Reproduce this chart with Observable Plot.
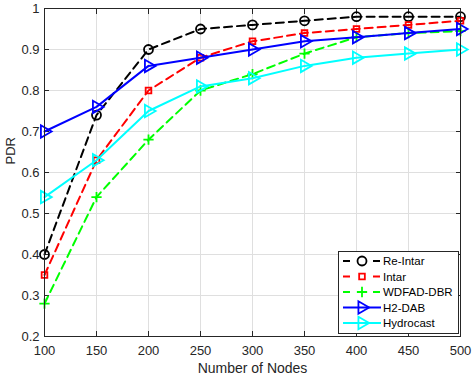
<!DOCTYPE html>
<html>
<head>
<meta charset="utf-8">
<script src="https://cdn.jsdelivr.net/npm/d3@7"></script>
<script src="https://cdn.jsdelivr.net/npm/@observablehq/plot@0.6"></script>
<style>
  html, body { margin: 0; padding: 0; background: #fff; }
  #wrap { position: relative; width: 474px; height: 379px; font-family: "Liberation Sans", Arial, sans-serif; }
  #legend { position: absolute; left: 338px; top: 251px; }
</style>
</head>
<body>
<div id="wrap"></div>
<script>
const nodes = [100, 150, 200, 250, 300, 350, 400, 450, 500];
const reIntar   = [0.40, 0.74, 0.90, 0.95, 0.96, 0.97, 0.98, 0.98, 0.98];
const intar     = [0.35, 0.63, 0.80, 0.88, 0.92, 0.94, 0.95, 0.96, 0.97];
const wdfadDbr  = [0.28, 0.54, 0.68, 0.80, 0.84, 0.89, 0.93, 0.94, 0.945];
const h2Dab     = [0.70, 0.76, 0.86, 0.88, 0.90, 0.92, 0.93, 0.94, 0.95];
const hydrocast = [0.54, 0.63, 0.75, 0.81, 0.83, 0.86, 0.88, 0.89, 0.90];

const seriesNames = ["Re-Intar", "Intar", "WDFAD-DBR", "H2-DAB", "Hydrocast"];
const seriesValues = [reIntar, intar, wdfadDbr, h2Dab, hydrocast];
const xTicks = [100, 150, 200, 250, 300, 350, 400, 450, 500];
const yTicks = [0.2, 0.3, 0.4, 0.5, 0.6, 0.7, 0.8, 0.9, 1];

const styles = {
  "Re-Intar":  {color: "#000000", dash: "8,5", symbol: "circle",   r: 4.5, rotate: 0},
  "Intar":     {color: "#ff0000", dash: "8,5", symbol: "square",   r: 3.2, rotate: 0},
  "WDFAD-DBR": {color: "#00ff00", dash: "8,5", symbol: "plus",     r: 3.4, rotate: 0},
  "H2-DAB":    {color: "#0000ff", dash: null,  symbol: "triangle", r: 4.6, rotate: 90},
  "Hydrocast": {color: "#00ffff", dash: null,  symbol: "triangle", r: 4.6, rotate: 90}
};

const data = seriesNames.flatMap((name, i) =>
  nodes.map((n, j) => ({series: name, x: n, y: seriesValues[i][j]})));

const lineMarks = seriesNames.flatMap(name => {
  const s = styles[name];
  const d = data.filter(r => r.series === name);
  return [
    Plot.line(d, {x: "x", y: "y", stroke: s.color, strokeWidth: 2, strokeDasharray: s.dash || undefined}),
    Plot.dot(d, {x: "x", y: "y", stroke: s.color, fill: "none", strokeWidth: 1.8, symbol: s.symbol, r: s.r, rotate: s.rotate})
  ];
});

const blank = () => "";

const chart = Plot.plot({
  width: 474,
  height: 379,
  marginLeft: 44,
  marginRight: 14,
  marginTop: 8,
  marginBottom: 43,
  style: {fontFamily: "Liberation Sans, Arial, sans-serif", fontSize: "13px", color: "#262626", background: "#fff"},
  x: {domain: [100, 500], label: null},
  y: {domain: [0.2, 1], label: null},
  marks: [
    Plot.gridX(xTicks, {stroke: "#dfdfdf", strokeOpacity: 1}),
    Plot.gridY(yTicks, {stroke: "#dfdfdf", strokeOpacity: 1}),
    Plot.axisX(xTicks, {anchor: "bottom", tickSize: 0, tickPadding: 9, label: null, fontSize: 13}),
    Plot.axisY(yTicks, {anchor: "left", tickSize: 0, tickPadding: 5, label: null, fontSize: 13, tickFormat: d => d === 1 ? "1" : d.toFixed(1)}),
    Plot.axisX(xTicks, {anchor: "bottom", tickSize: -5, tickFormat: blank, label: null, stroke: "#262626"}),
    Plot.axisX(xTicks, {anchor: "top", tickSize: -5, tickFormat: blank, label: null, stroke: "#262626"}),
    Plot.axisY(yTicks, {anchor: "left", tickSize: -5, tickFormat: blank, label: null, stroke: "#262626"}),
    Plot.axisY(yTicks, {anchor: "right", tickSize: -5, tickFormat: blank, label: null, stroke: "#262626"}),
    ...lineMarks,
    Plot.frame({stroke: "#262626", strokeWidth: 1}),
    Plot.text(["Number of Nodes"], {frameAnchor: "bottom", dy: 36, fontSize: 14, text: d => d, fill: "#262626"}),
    Plot.text(["PDR"], {frameAnchor: "left", dx: -34, dy: -8, rotate: -90, fontSize: 13, text: d => d, fill: "#262626"})
  ]
});
const wrap = document.getElementById("wrap");
wrap.appendChild(chart);

// Legend overlay
const lw = 121, lh = 83;
const leg = d3.select(wrap).append("svg").attr("id", "legend")
  .attr("width", lw).attr("height", lh)
  .style("font-family", "Liberation Sans, Arial, sans-serif");
leg.append("rect").attr("x", 0.5).attr("y", 0.5).attr("width", lw - 1).attr("height", lh - 1)
  .attr("fill", "#fff").attr("stroke", "#262626").attr("stroke-width", 1);
const symMap = {circle: d3.symbolCircle, square: d3.symbolSquare, plus: d3.symbolPlus, triangle: d3.symbolTriangle};
seriesNames.forEach((name, i) => {
  const s = styles[name];
  const y = 10 + i * 15.5;
  const g = leg.append("g");
  g.append("line").attr("x1", 5).attr("x2", 43).attr("y1", y).attr("y2", y)
    .attr("stroke", s.color).attr("stroke-width", 2)
    .attr("stroke-dasharray", s.dash ? "7,23" : null);
  g.append("path")
    .attr("d", d3.symbol(symMap[s.symbol], Math.PI * s.r * s.r)())
    .attr("transform", `translate(24,${y}) rotate(${s.rotate})`)
    .attr("fill", "none").attr("stroke", s.color).attr("stroke-width", 1.8);
  g.append("text").attr("x", 45).attr("y", y).attr("dy", "0.35em")
    .attr("font-size", 11.5).attr("fill", "#000").text(name);
});
</script>
</body>
</html>
